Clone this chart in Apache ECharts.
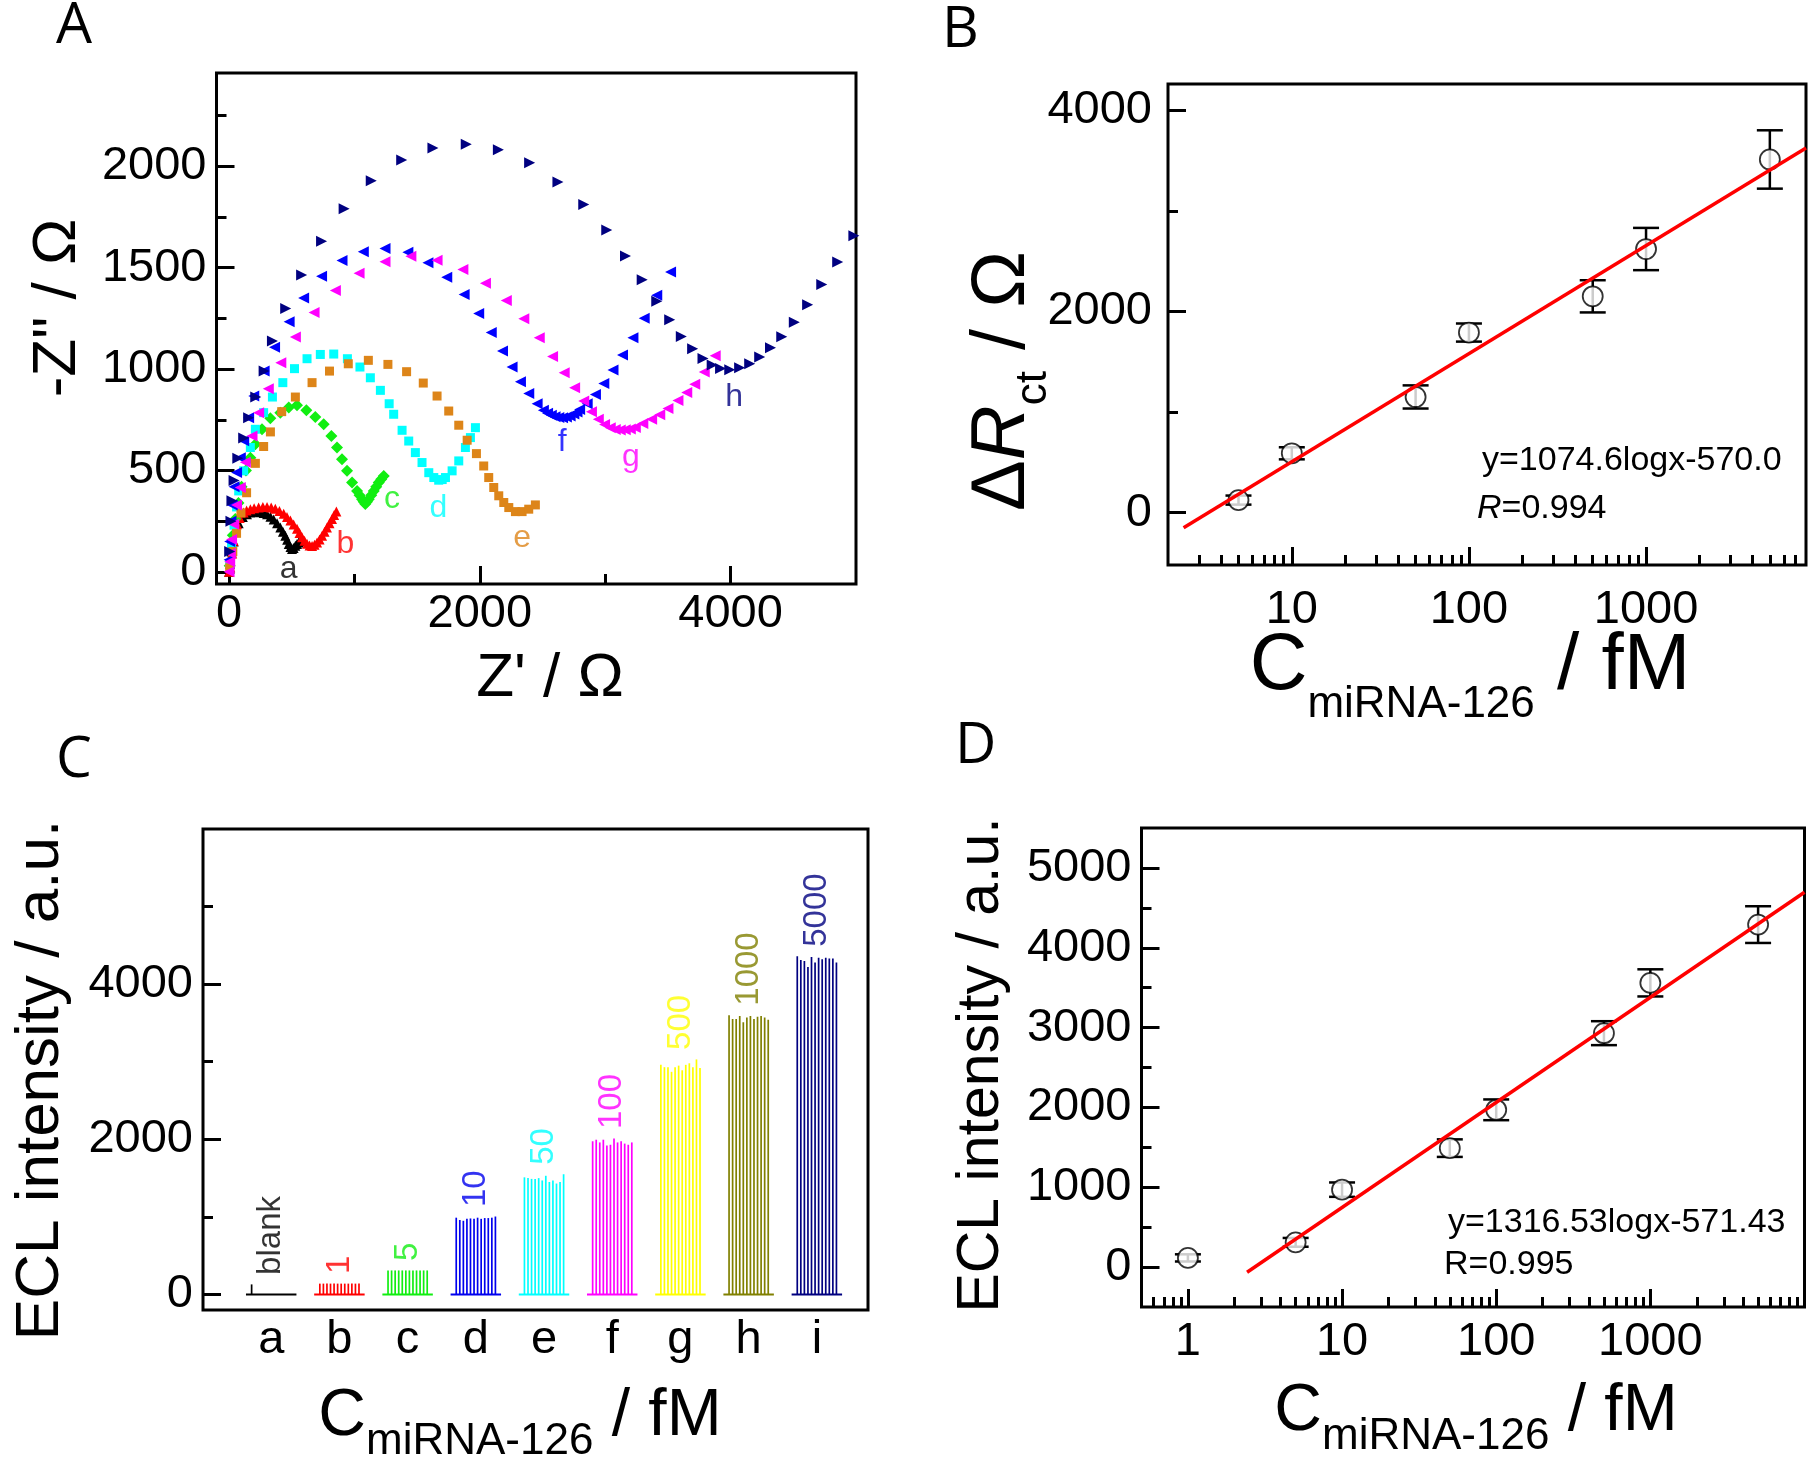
<!DOCTYPE html>
<html>
<head>
<meta charset="utf-8">
<title>EIS and ECL response to miRNA-126</title>
<script src="https://cdn.jsdelivr.net/npm/echarts@6.0.0/dist/echarts.min.js"></script>
<style>
  html, body { margin: 0; padding: 0; background: #fff; }
  #chart { width: 1820px; height: 1468px; }
</style>
</head>
<body>
<div id="chart"></div>
<script>
// ---------- Panel A: Nyquist plots, [Z', -Z''] in ohm ----------
const curveNames = ['a', 'b', 'c', 'd', 'e', 'f', 'g', 'h'];
const nyqA = [[0,0],[8,40],[20,100],[37,150],[55,200],[77,240],[110,270],[143,284],[170,292],[196,296],[223,296],[250,294],[277,290],[303,284],[330,272],[356,258],[383,240],[409,219],[430,198],[449,178],[463,158],[476,137],[490,122],[502,112],[515,118],[529,129],[542,137],[555,145],[570,152],[582,157]];
const nyqB = [[0,0],[10,22],[25,90],[37,153],[50,200],[64,235],[85,265],[117,293],[140,303],[170,309],[200,314],[236,317],[270,320],[303,320],[336,317],[369,311],[402,300],[436,287],[462,271],[489,253],[515,233],[542,212],[562,191],[582,171],[602,153],[622,138],[642,130],[662,128],[682,134],[702,145],[722,160],[742,178],[762,198],[781,219],[801,240],[821,260],[838,280],[856,298]];
const nyqC = [[5,30],[15,100],[30,180],[50,260],[75,340],[100,420],[135,500],[170,563],[210,629],[263,703],[329,757],[409,785],[476,810],[542,821],[617,797],[688,764],[755,728],[816,670],[861,613],[901,555],[941,498],[981,440],[1021,399],[1041,378],[1061,358],[1074,346],[1087,334],[1100,346],[1114,358],[1134,378],[1154,399],[1174,420],[1194,440],[1214,457],[1234,473]];
const nyqD = [[5,40],[20,130],[40,230],[60,320],[77,399],[117,498],[170,613],[210,703],[276,785],[346,862],[429,933],[522,1002],[622,1051],[728,1072],[835,1074],[944,1051],[1044,1010],[1127,957],[1207,895],[1277,829],[1313,777],[1380,698],[1433,645],[1486,588],[1539,539],[1593,489],[1633,465],[1672,452],[1700,455],[1726,465],[1779,498],[1832,547],[1885,613],[1925,662],[1965,711]];
const nyqE = [[5,20],[30,100],[60,190],[95,290],[140,390],[210,535],[276,618],[330,690],[420,790],[529,862],[662,933],[801,990],[951,1026],[1111,1043],[1267,1023],[1416,987],[1549,931],[1659,867],[1752,793],[1832,723],[1899,649],[1973,583],[2031,522],[2071,465],[2111,416],[2151,375],[2191,342],[2231,317],[2284,297],[2337,297],[2390,309],[2443,330]];
const nyqF = [[0,60],[5,150],[15,250],[25,330],[40,420],[60,490],[90,563],[117,646],[156,760],[197,867],[280,990],[363,1108],[479,1233],[595,1351],[738,1458],[901,1535],[1071,1578],[1244,1594],[1426,1576],[1586,1524],[1736,1453],[1875,1368],[1991,1274],[2091,1180],[2181,1089],[2257,1010],[2324,938],[2390,879],[2457,829],[2507,797],[2540,782],[2570,772],[2600,765],[2630,761],[2660,760],[2690,763],[2720,769],[2750,778],[2775,788],[2796,801],[2856,829],[2922,875],[2989,929],[3062,995],[3138,1069],[3221,1154],[3311,1251],[3411,1364],[3521,1479]];
const nyqG = [[0,0],[5,50],[10,90],[20,160],[37,235],[60,330],[90,416],[130,540],[183,670],[236,785],[313,903],[413,1031],[529,1158],[678,1279],[848,1387],[1037,1473],[1244,1529],[1450,1556],[1659,1537],[1865,1491],[2045,1423],[2211,1338],[2351,1248],[2474,1154],[2580,1062],[2673,982],[2756,908],[2829,842],[2890,790],[2945,752],[2995,726],[3040,710],[3080,702],[3120,700],[3160,701],[3200,705],[3240,712],[3300,732],[3370,752],[3435,775],[3500,805],[3580,845],[3650,885],[3714,925],[3790,985],[3877,1066]];
const nyqH = [[5,100],[15,250],[23,350],[40,450],[70,560],[117,660],[156,760],[213,862],[280,990],[346,1138],[452,1299],[579,1464],[738,1630],[918,1791],[1134,1929],[1377,2031],[1626,2090],[1892,2109],[2148,2082],[2397,2018],[2623,1922],[2829,1811],[3012,1686],[3162,1558],[3295,1440],[3411,1335],[3514,1243],[3607,1161],[3697,1100],[3780,1052],[3853,1020],[3920,1003],[3993,997],[4072,1007],[4152,1026],[4232,1059],[4318,1105],[4408,1159],[4508,1231],[4614,1317],[4727,1417],[4854,1528],[4983,1658]];
const curveLabelAt = [[476,14],[928,138],[1300,360],[1670,315],[2337,168],[2657,640],[3204,566],[4028,863]];
const zReTicks = [0, 2000, 4000];
const zReMinor = [1000, 3000];
const zImTicks = [0, 500, 1000, 1500, 2000];
const zImMinor = [250, 750, 1250, 1750, 2250];

// ---------- Panel B: delta Rct vs concentration ----------
const concB = [5, 10, 50, 100, 500, 1000, 5000];
const rctB = [125, 590, 1150, 1790, 2150, 2620, 3510];
const rctErrB = [45, 60, 115, 90, 160, 210, 290];
const fitB = [[2.45, -150], [8000, 3624]];
const logTicksB = [10, 100, 1000];
const logMinorB = [3,4,5,6,7,8,9,20,30,40,50,60,70,80,90,200,300,400,500,600,700,800,900,2000,3000,4000,5000,6000,7000];
const rctTicks = [0, 2000, 4000];
const rctMinor = [1000, 3000];

// ---------- Panel C: ECL traces for each sample ----------
const eclGroups = ['a', 'b', 'c', 'd', 'e', 'f', 'g', 'h', 'i'];
const eclGroupPos = [1, 2, 3, 4, 5, 6, 7, 8, 9];
const eclConc = ['blank', '1', '5', '10', '50', '100', '500', '1000', '5000'];
const eclBlank = [130, 0, 0, 0, 0, 0, 0, 0, 0, 0, 0, 0];
const ecl1 = [140, 140, 140, 140, 140, 140, 140, 140, 140, 140, 140, 140];
const ecl5 = [310, 310, 310, 310, 310, 310, 310, 310, 310, 310, 310, 310];
const ecl10 = [990, 960, 950, 975, 980, 975, 990, 975, 985, 985, 990, 1005];
const ecl50 = [1510, 1500, 1490, 1490, 1500, 1470, 1530, 1450, 1470, 1430, 1450, 1550];
const ecl100 = [1975, 1995, 1960, 1995, 1920, 1930, 2010, 1960, 1975, 1945, 1930, 1960];
const ecl500 = [2960, 2930, 2930, 2870, 2930, 2950, 2890, 2960, 2980, 2930, 3030, 2920];
const ecl1000 = [3600, 3550, 3550, 3590, 3510, 3570, 3590, 3550, 3580, 3590, 3570, 3540];
const ecl5000 = [4360, 4310, 4300, 4220, 4350, 4280, 4340, 4320, 4340, 4330, 4330, 4280];
const eclTicksC = [0, 2000, 4000];
const eclMinorC = [1000, 3000, 5000];

// ---------- Panel D: ECL intensity vs concentration ----------
const concD = [1, 5, 10, 50, 100, 500, 1000, 5000];
const eclD = [115, 310, 970, 1490, 1970, 2930, 3560, 4290];
const eclErrD = [45, 55, 90, 110, 130, 150, 170, 230];
const fitD = [[2.42, -65], [10000, 4695]];
const logTicksD = [1, 10, 100, 1000];
const logMinorD = [0.6,0.7,0.8,0.9,2,3,4,5,6,7,8,9,20,30,40,50,60,70,80,90,200,300,400,500,600,700,800,900,2000,3000,4000,5000,6000,7000,8000,9000];
const eclTicksD = [0, 1000, 2000, 3000, 4000, 5000];
const eclMinorD = [500, 1500, 2500, 3500, 4500];

const FONT = 'Arial, "Liberation Sans", Helvetica, sans-serif';
const LETTER_FONT = '"Open Sans", Arial, sans-serif';

const nyqColors = ['#000000', '#ff0000', '#11ee11', '#00ffff', '#dd8519', '#0000ff', '#ff00ff', '#000080'];
const eclColors = ['#000000', '#ff0000', '#11ee11', '#0000ee', '#00ffff', '#ff00ff', '#ffff00', '#808000', '#000080'];

const measureCtx = document.createElement('canvas').getContext('2d');
function textWidth(text, size, italic, family) {
  measureCtx.font = (italic ? 'italic ' : '') + size + 'px ' + (family || FONT);
  return measureCtx.measureText(text).width;
}

// a line of text made of pieces [text, fontSize, baselineShift, italic]; (x, y) is on the baseline
function textRun(parts, x, y, opts) {
  opts = opts || {};
  const widths = parts.map(p => textWidth(p[0], p[1], p[3], opts.family));
  const total = widths.reduce((s, w) => s + w, 0);
  let cursor = opts.align === 'left' ? 0 : -total / 2;
  const children = parts.map((p, i) => {
    const el = {
      type: 'text', x: cursor, y: (p[2] || 0) - 0.34 * p[1],
      style: {
        text: p[0], fontSize: p[1], fontFamily: opts.family || FONT,
        fontStyle: p[3] ? 'italic' : 'normal', fill: '#000',
        align: 'left', verticalAlign: 'middle'
      }
    };
    cursor += widths[i];
    return el;
  });
  return { type: 'group', x: x, y: y, rotation: opts.rotate ? Math.PI / 2 : 0, silent: true, children: children };
}

function axis(dim, grid, type, min, max, ticks, tickLen, labels, margin, formatter) {
  const a = {
    type: type, gridIndex: grid, min: min, max: max,
    position: dim === 'x' ? 'bottom' : 'left',
    axisLine: { show: false, onZero: false },
    splitLine: { show: false },
    axisTick: {
      show: ticks.length > 0, inside: true, length: tickLen,
      lineStyle: { color: '#000', width: 3 }, customValues: ticks
    },
    axisLabel: labels ? {
      show: true, customValues: labels, margin: margin,
      fontSize: 47, fontFamily: FONT, color: '#000',
      formatter: formatter || (v => String(Math.round(v)))
    } : { show: false }
  };
  if (type === 'log') a.logBase = 10;
  return a;
}

const gridBox = { show: true, borderColor: '#000', borderWidth: 3, backgroundColor: 'transparent', containLabel: false, outerBoundsMode: 'none' };

const xAxes = [
  axis('x', 0, 'value', -100, 5000, zReTicks, 18, zReTicks, 7),
  axis('x', 0, 'value', -100, 5000, zReMinor, 10, null),
  axis('x', 1, 'log', 2, 8000, logTicksB, 18, logTicksB, 22),
  axis('x', 1, 'log', 2, 8000, logMinorB, 10, null),
  axis('x', 2, 'value', 0, 9.75, [], 0, eclGroupPos, 7, v => eclGroups[Math.round(v) - 1] || ''),
  axis('x', 3, 'log', 0.5, 10000, logTicksD, 18, logTicksD, 12),
  axis('x', 3, 'log', 0.5, 10000, logMinorD, 10, null)
];
const yAxes = [
  axis('y', 0, 'value', -60, 2460, zImTicks, 18, zImTicks, 10),
  axis('y', 0, 'value', -60, 2460, zImMinor, 10, null),
  axis('y', 1, 'value', -520, 4260, rctTicks, 18, rctTicks, 16),
  axis('y', 1, 'value', -520, 4260, rctMinor, 10, null),
  axis('y', 2, 'value', -200, 6000, eclTicksC, 18, eclTicksC, 10),
  axis('y', 2, 'value', -200, 6000, eclMinorC, 10, null),
  axis('y', 3, 'value', -500, 5500, eclTicksD, 18, eclTicksD, 10),
  axis('y', 3, 'value', -500, 5500, eclMinorD, 10, null)
];

// Panel A scatter series
const nyqData = [nyqA, nyqB, nyqC, nyqD, nyqE, nyqF, nyqG, nyqH];
const nyqSymbols = [
  { symbol: 'triangle', size: 10, rotate: 0 },
  { symbol: 'triangle', size: 10, rotate: 0 },
  { symbol: 'diamond', size: 12, rotate: 0 },
  { symbol: 'rect', size: 9, rotate: 0 },
  { symbol: 'rect', size: 9, rotate: 0 },
  { symbol: 'triangle', size: 11, rotate: 90 },
  { symbol: 'triangle', size: 11, rotate: 90 },
  { symbol: 'triangle', size: 11, rotate: -90 }
];
const series = nyqData.map((d, i) => ({
  type: 'scatter', xAxisIndex: 0, yAxisIndex: 0, data: d,
  symbol: nyqSymbols[i].symbol, symbolSize: nyqSymbols[i].size, symbolRotate: nyqSymbols[i].rotate,
  itemStyle: { color: nyqColors[i], opacity: 1 }, z: 2 + (i === 7 ? 1 : 0)
}));
series.push({
  type: 'scatter', xAxisIndex: 0, yAxisIndex: 0, symbolSize: 1, silent: true, z: 6,
  itemStyle: { color: 'rgba(0,0,0,0)' },
  data: curveLabelAt.map((p, i) => ({ value: p, label: { color: nyqColors[i] } })),
  label: { show: true, position: 'inside', fontSize: 32, fontFamily: FONT, formatter: p => curveNames[p.dataIndex] }
});

// error bars drawn through the axis scales
function errorBars(xi, yi, xs, ys, errs) {
  return {
    type: 'custom', xAxisIndex: xi, yAxisIndex: yi, z: 3, silent: true,
    data: xs.map((x, i) => [x, ys[i], errs[i]]),
    renderItem: function (params, api) {
      const x = api.value(0), y = api.value(1), e = api.value(2);
      const hi = api.coord([x, y + e]);
      const lo = api.coord([x, y - e]);
      const cap = 13;
      const st = { stroke: '#000', lineWidth: 2.5 };
      return {
        type: 'group', children: [
          { type: 'line', shape: { x1: hi[0], y1: hi[1], x2: lo[0], y2: lo[1] }, style: st },
          { type: 'line', shape: { x1: hi[0] - cap, y1: hi[1], x2: hi[0] + cap, y2: hi[1] }, style: st },
          { type: 'line', shape: { x1: lo[0] - cap, y1: lo[1], x2: lo[0] + cap, y2: lo[1] }, style: st }
        ]
      };
    }
  };
}
function circles(xi, yi, xs, ys) {
  return {
    type: 'scatter', xAxisIndex: xi, yAxisIndex: yi, z: 4, symbol: 'circle', symbolSize: 20,
    itemStyle: { color: '#fff', borderColor: '#000', borderWidth: 1.8 },
    data: xs.map((x, i) => [x, ys[i]])
  };
}
function fitLine(xi, yi, pts) {
  return {
    type: 'line', xAxisIndex: xi, yAxisIndex: yi, z: 5, data: pts, showSymbol: false, symbol: 'none',
    lineStyle: { color: '#ff0000', width: 3.5 }
  };
}

// Panel B
series.push(errorBars(2, 2, concB, rctB, rctErrB));
series.push(circles(2, 2, concB, rctB));
series.push(fitLine(2, 2, fitB));

// Panel C: each sample is a baseline with repeated ECL spikes
const eclTraces = [eclBlank, ecl1, ecl5, ecl10, ecl50, ecl100, ecl500, ecl1000, ecl5000];
eclTraces.forEach((vals, g) => {
  const n = vals.length;
  const col = eclColors[g];
  series.push({
    type: 'custom', xAxisIndex: 4, yAxisIndex: 4, z: 3, silent: true,
    data: vals.map((v, k) => [eclGroupPos[g], v, k]),
    renderItem: function (params, api) {
      const c = api.value(0), v = api.value(1), k = api.value(2);
      const unit = api.size([1, 0])[0];
      const base = api.coord([c, 0]);
      const top = api.coord([c, v]);
      const dx = (k - (n - 1) / 2) * 0.0522 * unit;
      const children = [];
      if (k === 0) {
        children.push({ type: 'line', shape: { x1: base[0] - 0.37 * unit, y1: base[1], x2: base[0] + 0.37 * unit, y2: base[1] }, style: { stroke: col, lineWidth: 2.2 } });
      }
      if (v > 0) {
        children.push({ type: 'line', shape: { x1: base[0] + dx, y1: base[1], x2: base[0] + dx, y2: top[1] }, style: { stroke: col, lineWidth: 1.7 } });
      }
      return { type: 'group', children: children };
    }
  });
});
series.push({
  type: 'scatter', xAxisIndex: 4, yAxisIndex: 4, symbolSize: 1, silent: true, z: 6,
  itemStyle: { color: 'rgba(0,0,0,0)' },
  data: eclTraces.map((vals, g) => ({ value: [eclGroupPos[g], Math.max.apply(null, vals)], label: { color: eclColors[g] } })),
  label: {
    show: true, position: 'top', distance: 9, rotate: 90, align: 'left', verticalAlign: 'middle',
    fontSize: 33, fontFamily: FONT, formatter: p => eclConc[p.dataIndex]
  }
});

// Panel D
series.push(errorBars(5, 6, concD, eclD, eclErrD));
series.push(circles(5, 6, concD, eclD));
series.push(fitLine(5, 6, fitD));

const graphics = [
  // panel letters
  textRun([['A', 57, 0]], 56, 46, { align: 'left', family: LETTER_FONT }),
  textRun([['B', 57, 0]], 942, 50, { align: 'left', family: LETTER_FONT }),
  textRun([['C', 57, 0]], 56, 780, { align: 'left', family: LETTER_FONT }),
  textRun([['D', 57, 0]], 955, 766, { align: 'left', family: LETTER_FONT }),
  // panel A titles
  textRun([['-Z" / \u03A9', 62, 0]], 79, 308, { rotate: true }),
  textRun([["Z' / \u03A9", 62, 0]], 550, 700),
  // panel B titles
  textRun([['\u0394', 76, 0], ['R', 76, 0, true], ['ct', 44, 20], [' / \u03A9', 76, 0]], 1029, 381, { rotate: true }),
  textRun([['C', 80, 0], ['miRNA-126', 44, 26], [' / fM', 80, 0]], 1470, 694),
  textRun([['y=1074.6logx-570.0', 34, 0]], 1482, 472, { align: 'left' }),
  textRun([['R', 34, 0, true], ['=0.994', 34, 0]], 1477, 520, { align: 'left' }),
  // panel C titles
  textRun([['ECL intensity / a.u.', 62, 0]], 62, 1080, { rotate: true }),
  textRun([['C', 66, 0], ['miRNA-126', 44, 18], [' / fM', 66, 0]], 520, 1439),
  // panel D titles
  textRun([['ECL intensity / a.u.', 59, 0]], 1002, 1065, { rotate: true }),
  textRun([['C', 66, 0], ['miRNA-126', 44, 18], [' / fM', 66, 0]], 1476, 1434),
  textRun([['y=1316.53logx-571.43', 34, 0]], 1448, 1234, { align: 'left' }),
  textRun([['R=0.995', 34, 0]], 1444, 1276, { align: 'left' })
];

const chart = echarts.init(document.getElementById('chart'), null, { renderer: 'canvas' });
chart.setOption({
  animation: false,
  backgroundColor: '#fff',
  grid: [
    Object.assign({ left: 216.5, top: 73, width: 639.5, height: 511 }, gridBox),
    Object.assign({ left: 1168, top: 84, width: 638, height: 481 }, gridBox),
    Object.assign({ left: 203, top: 829, width: 665, height: 481 }, gridBox),
    Object.assign({ left: 1141.5, top: 828, width: 663, height: 479 }, gridBox)
  ],
  xAxis: xAxes,
  yAxis: yAxes,
  series: series,
  graphic: { elements: graphics }
});
</script>
</body>
</html>
